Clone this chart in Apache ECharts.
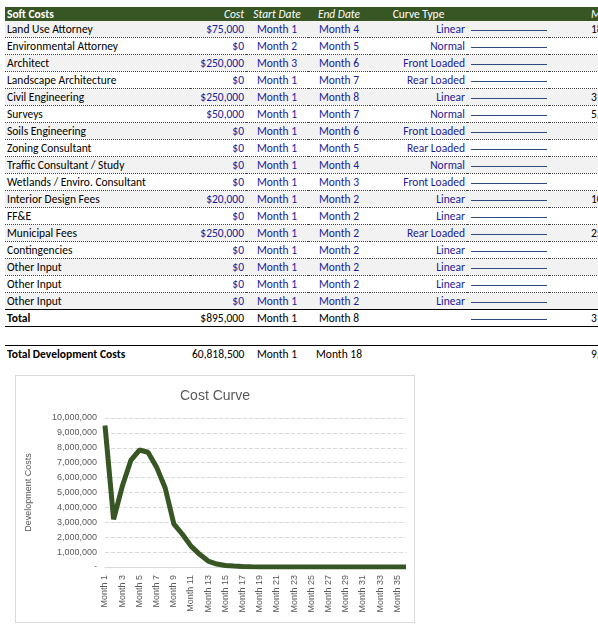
<!DOCTYPE html>
<html><head><meta charset="utf-8">
<script src="https://cdn.jsdelivr.net/npm/echarts@6/dist/echarts.min.js"></script>
<style>
body{margin:0;width:598px;height:638px;overflow:hidden;background:#fff;font-family:Calibri,"Liberation Sans",Arial,sans-serif;font-size:11.5px;position:relative}
#tbl{position:absolute;left:5px;top:7px;width:620px;border-collapse:collapse;table-layout:fixed}
#tbl td{height:16px;padding:0 2px;white-space:nowrap;overflow:hidden;border-bottom:1px dotted #444;line-height:16px}
#tbl tr.h td{background:#375623;color:#fff;border-bottom:none;height:14px;line-height:14px}
#tbl tr.h td.i{font-style:italic}
.b{color:#1a1a9a}.r{text-align:right}.c{text-align:center}
#tbl tr.tot td{border-top:1px solid #000;border-bottom:1px solid #000;background:#fff}
#tbl tr.d td{background:#f2f2f2}
.sp{position:relative}
.sp span{position:absolute;left:4px;right:2px;top:9px;border-top:1px solid #2e4a7e}
#tdc{position:absolute;left:5px;top:345px;width:620px;border-collapse:collapse;table-layout:fixed;border-top:1px solid #000}
#tdc td{height:15px;padding:0 2px;white-space:nowrap;overflow:hidden}
#chart{position:absolute;left:15px;top:375px;width:398px;height:246px;border:1px solid #d9d9d9}
</style></head><body>
<table id="tbl"><colgroup><col style="width:185px"><col style="width:56px"><col style="width:62px"><col style="width:62px"><col style="width:97px"><col style="width:82px"><col style="width:76px"></colgroup><tbody id="tb"></tbody></table>
<table id="tdc"><colgroup><col style="width:185px"><col style="width:56px"><col style="width:62px"><col style="width:62px"><col style="width:97px"><col style="width:82px"><col style="width:76px"></colgroup>
<tr><td style="font-weight:bold">Total Development Costs</td><td class="r">60,818,500</td><td class="c">Month 1</td><td class="c">Month 18</td><td></td><td></td><td class="r" style="text-align:left;padding-left:42px">9,502,8</td></tr></table>
<div id="chart"></div>
<script>
const names=["Land Use Attorney","Environmental Attorney","Architect","Landscape Architecture","Civil Engineering","Surveys","Soils Engineering","Zoning Consultant","Traffic Consultant / Study","Wetlands / Enviro. Consultant","Interior Design Fees","FF&E","Municipal Fees","Contingencies","Other Input","Other Input","Other Input"];
const costs=["$75,000","$0","$250,000","$0","$250,000","$50,000","$0","$0","$0","$0","$20,000","$0","$250,000","$0","$0","$0","$0"];
const starts=["Month 1","Month 2","Month 3","Month 1","Month 1","Month 1","Month 1","Month 1","Month 1","Month 1","Month 1","Month 1","Month 1","Month 1","Month 1","Month 1","Month 1"];
const ends=["Month 4","Month 5","Month 6","Month 7","Month 8","Month 7","Month 6","Month 5","Month 4","Month 3","Month 2","Month 2","Month 2","Month 2","Month 2","Month 2","Month 2"];
const curves=["Linear","Normal","Front Loaded","Rear Loaded","Linear","Normal","Front Loaded","Rear Loaded","Normal","Front Loaded","Linear","Linear","Rear Loaded","Linear","Linear","Linear","Linear"];
const month1=["18,7","","","","31,2","5,3","","","","","10,0","","250,0","","","",""];
const months=Array.from({length:36},(_,i)=>"Month "+(i+1));
const devCosts=[9500000,3200000,5400000,7150000,7850000,7700000,6700000,5300000,2900000,2200000,1400000,850000,400000,200000,100000,60000,30000,10000,0,0,0,0,0,0,0,0,0,0,0,0,0,0,0,0,0,0];
let h='<tr class="h"><td style="font-weight:bold">Soft Costs</td><td class="r i">Cost</td><td class="c i">Start Date</td><td class="c i">End Date</td><td class="c">Curve Type</td><td></td><td class="i" style="padding-left:42px">Month 1</td></tr>';
names.forEach((n,i)=>{h+=`<tr class="${i%2?'':'d'}"><td>${n.replace('&','&amp;')}</td><td class="r b">${costs[i]}</td><td class="c b">${starts[i]}</td><td class="c b">${ends[i]}</td><td class="r b">${curves[i]}</td><td class="sp"><span></span></td><td style="padding-left:42px">${month1[i]}</td></tr>`;});
h+='<tr class="tot"><td style="font-weight:bold">Total</td><td class="r">$895,000</td><td class="c">Month 1</td><td class="c">Month 8</td><td></td><td class="sp"><span></span></td><td style="padding-left:42px">315,3</td></tr>';
document.getElementById('tb').innerHTML=h;
const c=echarts.init(document.getElementById('chart'));
c.setOption({animation:false,
title:{text:'Cost Curve',left:'center',top:8,textStyle:{fontSize:14,fontWeight:'normal',color:'#595959',fontFamily:'Liberation Sans'}},
grid:{left:88,right:8,top:42,bottom:55},
xAxis:{type:'category',data:months,boundaryGap:false,axisTick:{show:false},axisLine:{lineStyle:{color:'#d9d9d9'}},
 axisLabel:{rotate:90,interval:1,fontSize:9,color:'#595959'}},
yAxis:{type:'value',min:0,max:10000000,interval:1000000,name:'Development Costs',nameLocation:'middle',nameGap:72,nameTextStyle:{fontSize:9,color:'#595959'},
 axisLabel:{fontSize:9,color:'#595959',formatter:v=>v===0?'-':v.toLocaleString('en-US')},
 splitLine:{lineStyle:{type:'dashed',color:'#d9d9d9'}}},
series:[{type:'line',data:devCosts,symbol:'none',lineStyle:{width:5,color:'#375623'}}]});
</script></body></html>
